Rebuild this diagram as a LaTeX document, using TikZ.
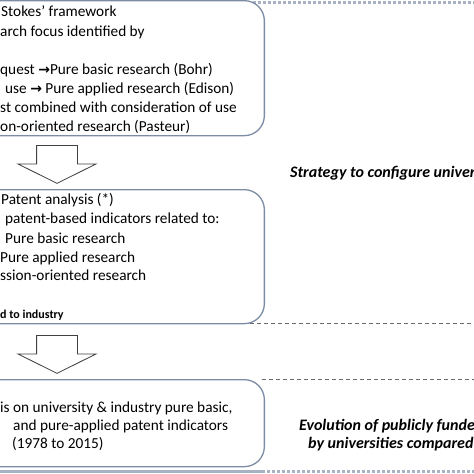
\documentclass[tikz,border=0pt]{standalone}
\usepackage{fontspec}
\setmainfont{Carlito}
\newfontfamily\symb{DejaVu Sans}
\usetikzlibrary{shapes.arrows,positioning}
\definecolor{panelblue}{RGB}{125,140,165}
\definecolor{sepgray}{RGB}{168,178,195}
\definecolor{dashgray}{RGB}{105,105,105}
\definecolor{arrowgray}{RGB}{65,65,65}
\newcommand{\goesto}{{\symb\bfseries\fontsize{14}{16}\selectfont →}}
\tikzset{
  panel/.style={draw=panelblue, line width=1.3pt, rounded corners=20pt,
                fill=white, inner sep=0pt},
  txt/.style={anchor=base west, inner sep=0pt, font=\fontsize{15.3}{18}\selectfont},
  tag/.style={anchor=base west, inner sep=0pt,
              font=\fontsize{16}{19}\selectfont\bfseries\itshape},
  blockarrow/.style={single arrow, draw=arrowgray, fill=white, line width=0.8pt,
                     rotate=-90, inner xsep=0pt, inner ysep=20pt,
                     minimum height=38pt, single arrow head extend=18.5pt,
                     single arrow tip angle=127},
  thicksep/.style={draw=sepgray, line width=3pt, dash pattern=on 3pt off 2pt},
  thinsep/.style={draw=dashgray, line width=1pt, dash pattern=on 4pt off 3pt}
}
\begin{document}
\begin{tikzpicture}[x=1pt, y=-1pt]
  \useasboundingbox (0,0) rectangle (474,474);
  \clip (0,0) rectangle (474,474);
  \fill[white] (0,0) rectangle (474,474);

  % separators on the right
  \draw[thicksep] (248,2) -- (474,2);
  \draw[thinsep] (250,323) -- (474,323);
  \draw[thinsep] (262,379) -- (474,379);
  \draw[draw=sepgray, line width=3pt] (0,471) -- (262,471);
  \draw[thicksep] (262,471) -- (474,471);

  % panels
  \node[panel, minimum width=400pt, minimum height=135pt, anchor=north east] (stokes) at (265,0) {};
  \node[panel, minimum width=400pt, minimum height=134pt, anchor=north east] (patent) at (265,189) {};
  \node[panel, minimum width=400pt, minimum height=87pt, anchor=north east] (trend) at (265,379) {};

  % block arrows between panels
  \node[blockarrow, anchor=tail] (arrA) at (57,145) {};
  \node[blockarrow, anchor=tail] (arrB) at (57,335) {};

  % first panel
  \node[txt] (s1) at (1,16) {Stokes’ framework};
  \node[txt] (s2) at (0,36) {arch focus identified by};
  \node[txt] (s3) at (0,74) {quest \goesto Pure basic research (Bohr)};
  \node[txt] (s4) at (5,93) {use \goesto\ Pure applied research (Edison)};
  \node[txt] (s5) at (0,112) {st combined with consideration of use};
  \node[txt] (s6) at (0,131) {on-oriented research (Pasteur)};

  % second panel
  \node[txt] (p1) at (1,204) {Patent analysis (*)};
  \node[txt] (p2) at (5,223) {patent-based indicators related to:};
  \node[txt] (p3) at (5,243) {Pure basic research};
  \node[txt] (p4) at (0,262) {Pure applied research};
  \node[txt] (p5) at (0,280) {ssion-oriented research};
  \node[txt, font=\fontsize{12}{14}\selectfont\bfseries] (p6) at (0,318) {d to industry};

  % third panel
  \node[txt] (t1) at (0,412) {is on university \& industry pure basic,};
  \node[txt] (t2) at (13,430) {and pure-applied patent indicators};
  \node[txt] (t3) at (12,448) {(1978 to 2015)};

  % labels on the right
  \node[tag] (strategy) at (290,177) {Strategy to configure univer};
  \node[tag] (evol1) at (299,430) {Evolution of publicly funde};
  \node[tag] (evol2) at (308,448) {by universities compared};
\end{tikzpicture}
\end{document}
